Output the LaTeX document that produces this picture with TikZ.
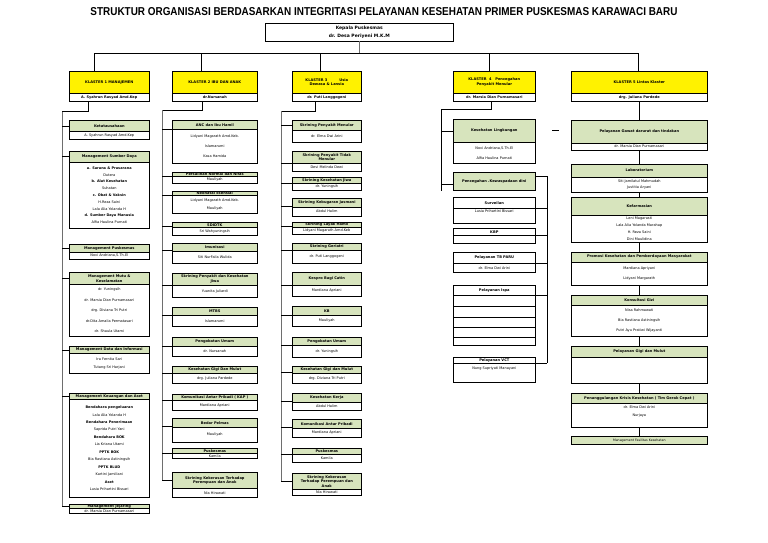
\documentclass[tikz,border=0pt]{standalone}
\usepackage{fontspec}
\setmainfont{DejaVu Sans}
\newfontfamily\titlefont{Liberation Sans}
\usepackage{graphicx}
\definecolor{hgreen}{RGB}{215,228,189}
\definecolor{trunkgray}{RGB}{110,110,110}
\tikzset{
 hb/.style={draw=black, line width=0.6pt, fill=hgreen, inner sep=0pt, anchor=north west, align=center, font=\fontsize{3.6}{4.4}\selectfont\bfseries},
 bb/.style={draw=black, line width=0.6pt, fill=white, inner sep=0pt, anchor=north west, align=center},
 yb/.style={draw=black, line width=0.6pt, fill=yellow, inner sep=0pt, anchor=north west, align=center, font=\fontsize{3.6}{4.6}\selectfont\bfseries},
 conn/.style={draw=black, line width=0.6pt},
 trunk/.style={draw=trunkgray, line width=0.7pt},
}
% #1 line spacing, #2 name, #3 x1, #4 x2, #5 top, #6 separator, #7 bottom, #8 header, #9 body
\newcommand\obox[9][7]{%
 \node[hb, minimum width={(#4-#3)*1pt}, minimum height={(#6-#5)*1pt}] (#2-h) at (#3,#5) {#8};
 \node[bb, font=\fontsize{3.5}{#1}\selectfont, minimum width={(#4-#3)*1pt}, minimum height={(#7-#6)*1pt}] (#2-b) at (#3,#6) {#9};
}
\newcommand\oboxw[9][7]{%
 \node[hb, fill=white, minimum width={(#4-#3)*1pt}, minimum height={(#6-#5)*1pt}] (#2-h) at (#3,#5) {#8};
 \node[bb, font=\fontsize{3.5}{#1}\selectfont, minimum width={(#4-#3)*1pt}, minimum height={(#7-#6)*1pt}] (#2-b) at (#3,#6) {#9};
}
\newcommand\klbox[5]{%
 \node[yb, minimum width={(#3-#2)*1pt}, minimum height=22.6pt] (#1-y) at (#2,70.7) {#4};
 \node[bb, font=\fontsize{3.5}{4}\selectfont\bfseries, minimum width={(#3-#2)*1pt}, minimum height=8pt] (#1-n) at (#2,93.3) {#5};
}
\begin{document}
\begin{tikzpicture}[x=1pt, y=-1pt]
\fill[white] (0,0) rectangle (768,543);
\useasboundingbox (0,0) rectangle (768,543);

\node (title) at (384,11.7) {\resizebox{587pt}{8pt}{\titlefont\bfseries STRUKTUR ORGANISASI BERDASARKAN INTEGRITASI PELAYANAN KESEHATAN PRIMER PUSKESMAS KARAWACI BARU}};

\node[draw, line width=0.6pt, inner sep=0pt, anchor=north west, minimum width=188pt, minimum height=18pt, align=center, font=\fontsize{4.5}{8}\selectfont\bfseries] (head) at (265,22.7) {Kepala Puskesmas\\dr. Desa Periyeni M.K.M};

% Klaster boxes
\klbox{k1}{69}{149}{KLASTER 1 MANAJEMEN}{A. Syahrun Rasyad Amd.Kep}
\klbox{k2}{172}{257}{KLASTER 2 IBU DAN ANAK}{dr.Nursanah}
\klbox{k3}{292}{361}{KLASTER 3\hspace{12pt}Usia\\Dewasa \& Lansia}{dr. Puti Langgogeni}
\klbox{k4}{453}{535}{KLASTER\ \ 4\ \ \ Pencegahan\\Penyakit Menular}{dr. Marsia Dian Purnamasari}
\klbox{k5}{571}{707}{KLASTER 5 Lintas Klaster}{drg. Juliana Pardede}

% bus
\coordinate (d1) at (94.7,53.3);
\coordinate (d2) at (201.6,53.3);
\coordinate (d3) at (320.4,53.3);
\coordinate (d4) at (489.4,53.3);
\coordinate (d5) at (637.9,53.3);
\draw[trunk] (head.south) -- (head.south |- d1);
\draw[conn] (d1) -- (d5);
\foreach \d/\k in {d1/k1,d2/k2,d3/k3,d4/k4,d5/k5} \draw[conn] (\d) -- (\d |- \k-y.north);

% ---------------- Column 1 ----------------
\obox{ket}{69}{149}{120}{131}{139.3}{Ketatausahaan}{A. Syahrun Rasyad Amd.Kep}
\obox[6.8]{sdm}{69}{149}{150.7}{161.7}{228.3}{Management Sumber Daya}{\textbf{a. Sarana \& Prasarana}\\Dutera\\\textbf{b. Alat Kesehatan}\\Suhatan\\\textbf{c. Obat \& Vaksin}\\H.Reza Saini\\Lala Alia Yolanda H\\\textbf{d. Sumber Daya Manusia}\\Alfia Haulina Purnati}
\obox{mpk}{69}{149}{244.3}{251.7}{259}{Management Puskesmas}{Novi Andriana,S.Th.El}
\obox[10.4]{mutu}{69}{149}{272.3}{284.3}{335.7}{Management Mutu \&\\Keselamatan}{dr. Yuningsih\\dr. Marsia Dian Purnamasari\\drg. Diviana Tri Putri\\dr.Dita Amalia Permatasari\\dr. Shaula Utami}
\obox[8.3]{data}{69}{149}{346}{353.3}{373.3}{Management Data dan Informasi}{Ira Fernita Sari\\Tutang Sri Harjani}
\obox[7.45]{keu}{69}{149}{393.3}{399.3}{496.7}{Management Keuangan dan Aset}{\textbf{Bendahara pengeluaran}\\Lala Alia Yolanda H\\\textbf{Bendahara Penerimaan}\\Saprida Putri Yani\\\textbf{Bendahara BOK}\\Lia Kriana Utami\\\textbf{PPTK BOK}\\Bia Rastiana Astiningsih\\\textbf{PPTK BLUD}\\Kartini Jamiliani\\\textbf{Aset}\\Lusia Prihartini Bissari}
\obox{jej}{69}{149}{504}{508.3}{513.3}{Management Jejaring}{dr. Marsia Dian Purnamasari}

\coordinate (c1) at (88.3,111.7);
\coordinate (t1) at (62,111.7);
\draw[conn] (c1 |- k1-n.south) -- (c1) -- (t1);
\draw[trunk] (t1) -- (t1 |- jej-h.west);
\foreach \n in {ket,sdm,mpk,mutu,data,keu,jej} \draw[conn] (t1 |- \n-h.west) -- (\n-h.west);

% ---------------- Column 2 ----------------
\obox[10]{anc}{172}{257}{120}{129.3}{163.3}{ANC dan Ibu Hamil}{Lidyani Magarath Amd.Keb.\\Islamarumi\\Kasa Hamida}
\obox{pers}{172}{257}{171.7}{176}{182.7}{Persalinan Normal dan Nifas}{Mauliyah}
\obox[8.5]{neo}{172}{257}{190.7}{195}{213.3}{Neonatal Esensial}{Lidyani Magarath Amd.Keb.\\Mauliyah}
\obox{sdi}{172}{257}{222.3}{226.7}{235}{SDIDTK}{Sri Wahyuningsih}
\obox{imu}{172}{257}{243.3}{250.7}{263.3}{Imunisasi}{Siti NurFaila Wulida}
\obox{skj}{172}{257}{272.7}{285}{296.7}{Skrining Penyakit dan Kesehatan\\Jiwa}{Yuanita Juliardi}
\obox{mtbs}{172}{257}{307.3}{315}{326}{MTBS}{Islamarumi}
\obox{pua}{172}{257}{336.7}{346}{356}{Pengobatan Umum}{dr. Nursanah}
\obox{kgma}{172}{257}{366}{373.3}{382.7}{Kesehatan Gigi Dan Mulut}{drg. Juliana Pardede}
\obox{kapa}{172}{257}{394.3}{400}{410}{Komunikasi Antar Pribadi ( KAP )}{Mardiana Apriani}
\obox{bp}{172}{257}{418.3}{426.7}{441.7}{Bedar Pelmas}{Mauliyah}
\obox{puska}{172}{257}{448.3}{453.3}{458.3}{Puskesmas}{Kamila}
\obox{kka}{172}{257}{471.7}{488.3}{496.7}{Skrining Kekerasan Terhadap\\Perempuan dan Anak}{Nia Hirawati}

\coordinate (c2) at (202.3,110);
\coordinate (t2) at (162,110);
\draw[conn] (c2 |- k2-n.south) -- (c2) -- (t2);
\draw[trunk] (t2) -- (t2 |- kka-h.west);
\foreach \n in {anc,pers,neo,sdi,imu,skj,mtbs,pua,kgma,kapa,bp,puska} \draw[conn] (t2 |- \n-b.north west) -- (\n-b.north west);
\draw[conn] (t2 |- kka-h.west) -- (kka-h.west);

% ---------------- Column 3 ----------------
\obox{spm}{292}{361}{120}{130}{141.7}{Skrining Penyakit Menular}{dr. Elma Dwi Arini}
\obox{sptm}{292}{361}{150.7}{163.3}{170.7}{Skrining Penyakit Tidak\\Menular}{Devi Melinda Dewi}
\obox{skjb}{292}{361}{177.3}{183.3}{190}{Skrining Kesehatan Jiwa}{dr. Yuningsih}
\obox{skb}{292}{361}{197.7}{206.7}{216}{Skrining Kebugaran Jasmani}{Abdul Halim}
\obox{slh}{292}{361}{221.7}{226.7}{234}{Skrining Layak Hamil}{Lidyani Magarath Amd.Keb}
\obox{sger}{292}{361}{243.3}{250}{263.3}{Skrining Geriatri}{dr. Puti Langgogeni}
\obox{kbc}{292}{361}{271.7}{285}{296}{Kespro Bagi Catin}{Mardiana Apriani}
\obox{kb}{292}{361}{306}{315}{326}{KB}{Mauliyah}
\obox{pub}{292}{361}{336.7}{345}{356.7}{Pengobatan Umum}{dr. Yuningsih}
\obox{kgmb}{292}{361}{366}{372.7}{383.3}{Kesehatan Gigi dan Mulut}{drg. Diviana Tri Putri}
\obox{kerja}{292}{361}{393.3}{401.7}{410}{Kesehatan Kerja}{Abdul Halim}
\obox{kapb}{292}{361}{419.3}{427.7}{437.3}{Komunikasi Antar Pribadi}{Mardiana Apriani}
\obox{puskb}{292}{361}{448.3}{454}{461.7}{Puskesmas}{Kamila}
\obox{kkb}{292}{361}{472.7}{489.3}{495}{Skrining Kekerasan\\Terhadap Perempuan dan\\Anak}{Nia Hirawati}

\coordinate (c3) at (315.7,111);
\coordinate (t3) at (281,111);
\draw[conn] (c3 |- k3-n.south) -- (c3) -- (t3);
\draw[trunk] (t3) -- (t3 |- kkb-h.west);
\draw[conn] (t3 |- spm-h.west) -- (spm-h.west);
\foreach \n in {sptm,skjb,skb,slh,sger,kbc,kb,pub,kgmb,kerja,kapb,puskb} \draw[conn] (t3 |- \n-b.north west) -- (\n-b.north west);
\draw[conn] (t3 |- kkb-h.west) -- (kkb-h.west);

% ---------------- Column 4 ----------------
\obox[10]{kesl}{453}{535}{119.3}{141.7}{163.3}{Kesehatan Lingkungan}{Novi Andriana,S.Th.El\\Alfia Haulina Purnati}
\node[hb, minimum width=82pt, minimum height=18.3pt] (pkd) at (453,171.7) {Pencegahan .Kewaspadaan dini};
\oboxw[5]{surv}{453}{535}{196.7}{208.3}{223.3}{Surveilan}{Lusia Prihartini Bissari\\~\\~}
\oboxw{kbp}{453}{535}{228.3}{235}{243.3}{KBP}{}
\oboxw{tb}{453}{535}{251.7}{263.3}{271.7}{Pelayanan TB PARU}{dr. Elma Dwi Arini}
\node[hb, fill=white, minimum width=82pt, minimum height=10pt] (ispa-h) at (453,285) {Pelayanan Ispa};
\foreach \i/\t/\b in {1/295/306,2/306/316.7,3/316.7/326.7,4/326.7/336.7,5/336.7/345}
  \node[bb, minimum width=82pt, minimum height={(\b-\t)*1pt}] (ispa\i) at (453,\t) {};
\oboxw[5]{vct}{453}{535}{357.3}{363.3}{382}{Pelayanan VCT}{Nung Supriyati Manayani\\~\\~}

\coordinate (c4) at (491,109.3);
\coordinate (t4) at (441,109.3);
\draw[conn] (c4 |- k4-n.south) -- (c4) -- (t4);
\draw[conn] (t4) -- (t4 |- pkd.south west);
\draw[conn] (t4 |- kesl-h.west) -- (kesl-h.west);
\draw[conn] ([yshift=-3.5pt]pkd.west -| t4) -- ([yshift=-3.5pt]pkd.west);
\coordinate (rt) at (547.3,176.7);
\draw[conn] (rt -| pkd.east) -- (rt) -- (rt |- vct-b.north east);
\foreach \n in {surv-b,kbp-b,tb-b,ispa1,vct-b} \draw[conn] (\n.north east) -- (rt |- \n.north east);

\coordinate (dashA) at (552,130);
\coordinate (dashB) at (559,130);
\draw[conn] (dashA) -- (dashB);

% ---------------- Column 5 ----------------
\obox{pgd}{571}{707}{120}{142.7}{150}{Pelayanan Gawat darurat dan tindakan}{dr. Marsia Dian Purnamasari}
\obox[6]{lab}{571}{707}{164}{176.7}{191.7}{Laboratorium}{Siti Jamilatul Mahmudah\\Justitia Aryani}
\obox[7.2]{kef}{571}{707}{196.7}{215}{241.7}{Kefarmasian}{Leni Magarasti\\Lala Alia Yolanda Marahap\\H. Reza Saini\\Dini Maulidina}
\obox[10]{prom}{571}{707}{251.7}{261.7}{285}{Promosi Kesehatan dan Pemberdayaan Masyarakat}{Mardiana Apriyani\\Lidyani Margarath}
\obox[10]{gizi}{571}{707}{295}{305}{336}{Konsultasi Gizi}{Nisa Rahmawati\\Bia Rastiana Astiningsih\\Putri Ayu Pratiwi Wijayanti}
\obox{pgm}{571}{707}{345.7}{357.3}{382.7}{Pelayanan Gigi dan Mulut}{}
\obox[8.3]{pkk}{571}{707}{393.3}{402.7}{427.3}{Penanggulangan Krisis Kesehatan ( Tim Gerak Cepat )}{dr. Elma Dwi Arini\\Nurjaya\\~}
\node[hb, font=\fontsize{3.2}{4}\selectfont, minimum width=136pt, minimum height=8pt] (mfk) at (571,436) {Management Fasilitas Kesehatan};

\foreach \a/\b in {k5-n/pgd-h,pgd-b/lab-h,lab-b/kef-h,kef-b/prom-h,prom-b/gizi-h,gizi-b/pgm-h,pgm-b/pkk-h,pkk-b/mfk}
  \draw[conn] (\a.south) -- (\b.north);
\end{tikzpicture}
\end{document}
